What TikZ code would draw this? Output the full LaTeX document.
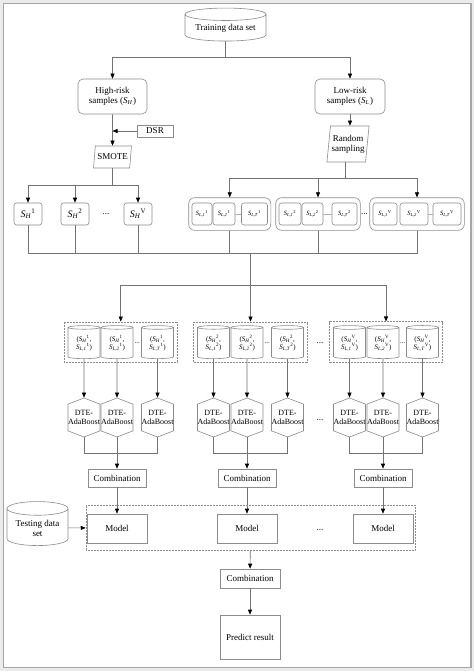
\documentclass[tikz,border=0pt]{standalone}
\usepackage{fontspec}
\setmainfont{Liberation Serif}
\usetikzlibrary{shapes.geometric,shapes.symbols,arrows.meta,fit,calc,positioning}
\newcommand{\Sidx}[2]{\textit{S}\textsubscript{\textit{#1}}\textsuperscript{#2}}

\begin{document}
\begin{tikzpicture}[x=1pt,y=-1pt,
  line/.style={draw=black!55, line width=0.6pt},
  arr/.style={line, -{Triangle[length=5pt,width=4pt,color=black]}},
  box/.style={draw=black!45, line width=0.6pt, fill=white, align=center, inner sep=1pt, font=\fontsize{9}{10}\selectfont},
  rbox/.style={box, rounded corners=5pt},
  sbox/.style={box, rounded corners=2.5pt, minimum height=22pt, font=\fontsize{6.5}{7}\selectfont},
  grp/.style={draw=black!45, line width=0.6pt, rounded corners=6pt, inner xsep=3pt, inner ysep=5pt},
  dashbox/.style={draw=black!45, line width=0.5pt, densely dotted, inner sep=3.5pt},
  db/.style={box, cylinder, shape border rotate=90, aspect=0.2},
  para/.style={box, trapezium, trapezium stretches=true, trapezium left angle=78, trapezium right angle=102},
  hexa/.style={box, signal, signal to=north and south, signal pointer angle=138, minimum width=32pt, minimum height=39pt, inner sep=0pt, font=\fontsize{8}{9}\selectfont},
  dots/.style={font=\fontsize{9}{10}\selectfont, inner sep=0pt}
]
\useasboundingbox (0,0) rectangle (474,671);
\fill[black!8] (0,0) rectangle (474,671);
\draw[black!35, line width=1.2pt, fill=white] (3.5,3.5) rectangle (471,667.5);

% training data and the two classes
\node[db, minimum width=81pt, minimum height=33pt] (train) at (225.5,28.5) {Training data set};
\node[rbox, minimum width=69pt, minimum height=35pt] (high) at (112.5,96.5) {High-risk\\samples (\Sidx{H}{})};
\node[rbox, minimum width=70pt, minimum height=35pt] (low) at (350,96.5) {Low-risk\\samples (\Sidx{L}{})};
\coordinate (tbus) at (225.5,57);
\draw[line] (train) -- (tbus);
\draw[arr] (tbus) -| (high);
\draw[arr] (tbus) -| (low);

% high-risk branch
\node[box, minimum width=36pt, minimum height=12pt] (dsr) at (155,131) {DSR};
\node[para, minimum width=38pt, minimum height=22pt] (smote) at (112.5,157) {SMOTE};
\draw[arr] (high) -- (smote);
\draw[arr] (dsr) -- (high.south |- dsr.west);

\node[sbox, minimum width=28pt, font=\fontsize{10}{11}\selectfont] (sh1) at (28,214) {\Sidx{H}{1}};
\node[sbox, minimum width=28pt, font=\fontsize{10}{11}\selectfont] (sh2) at (75,214) {\Sidx{H}{2}};
\node[sbox, minimum width=28pt, font=\fontsize{10}{11}\selectfont] (shv) at (138,214) {\Sidx{H}{V}};
\node[dots] (shdots) at (106,214) {...};
\coordinate (hbus) at (112.5,185);
\draw[line] (smote) -- (hbus);
\foreach \n in {sh1,sh2,shv}
  \draw[arr] (hbus) -| (\n);

% low-risk branch
\node[para, trapezium left angle=80, trapezium right angle=100, minimum width=40pt, minimum height=36pt] (rs) at (348,144) {Random\\sampling};
\draw[arr] (low) -- (low |- rs.north);

\foreach \g/\s/\xa/\xb/\xc/\wa/\wb/\wc in {1/1/202/224/254.5/20/22/26, 2/2/290/312.5/344.5/22/21/25, 3/V/385/414/447/24/28/28} {
  \node[sbox, minimum width=\wa pt] (sl\g a) at (\xa,214) {\Sidx{L,1}{\s}};
  \node[sbox, minimum width=\wb pt] (sl\g b) at (\xb,214) {\Sidx{L,2}{\s}};
  \node[sbox, minimum width=\wc pt] (sl\g t) at (\xc,214) {\Sidx{L,T}{\s}};
  \draw[black!30] (sl\g b) -- (sl\g t);
  \node[grp, fit=(sl\g a)(sl\g t)] (g\g) {};
}
\node[dots] (gdots) at (364.5,214) {...};
\coordinate (lbus) at (345,178);
\draw[line] (rs.south -| lbus) -- (lbus);
\foreach \n in {g1,g2,g3}
  \draw[arr] (lbus) -| (\n);

% collect all subsets
\coordinate (cbus) at (250,253);
\foreach \n in {sh1,sh2,shv,g1,g2,g3}
  \draw[line] (\n) |- (cbus);
\coordinate (dbus) at (250,285);
\draw[line] (cbus) -- (dbus);

% training sets, DTE-AdaBoost and combination
\foreach \g/\s/\xa/\xb/\xc in {A/1/84/117/157.5, B/2/213.5/247/287.5, C/V/349.5/383/422.5} {
  \node[db, minimum width=32pt, minimum height=33pt, font=\fontsize{7}{8}\selectfont] (c\g a) at (\xa,343.5) {(\Sidx{H}{\s},\\\Sidx{L,1}{\s})};
  \node[db, minimum width=32pt, minimum height=33pt, font=\fontsize{7}{8}\selectfont] (c\g b) at (\xb,343.5) {(\Sidx{H}{\s},\\\Sidx{L,2}{\s})};
  \node[db, minimum width=32pt, minimum height=33pt, font=\fontsize{7}{8}\selectfont] (c\g t) at (\xc,343.5) {(\Sidx{H}{\s},\\\Sidx{L,T}{\s})};
  \node[dots, font=\fontsize{7}{8}\selectfont] at ($(c\g b.east)!0.5!(c\g t.west)$) {...};
  \node[dashbox, fit=(c\g a)(c\g t)] (d\g) {};
  \draw[arr] (dbus) -| (d\g);
  \node[hexa] (h\g a) at (\xa,417.5) {DTE-\\AdaBoost};
  \node[hexa] (h\g b) at (\xb,417.5) {DTE-\\AdaBoost};
  \node[hexa] (h\g t) at (\xc,417.5) {DTE-\\AdaBoost};
  \node[box, minimum width=58pt, minimum height=18pt] (k\g) at (\xb,478) {Combination};
  \node[box, minimum width=60pt, minimum height=29pt] (m\g) at (\xb,528.5) {Model};
  \coordinate (kb\g) at (\xb,453);
  \foreach \p in {a,b,t} {
    \draw[arr] (c\g\p) -- (h\g\p);
    \draw[line] (h\g\p) |- (kb\g);
  }
  \draw[arr] (kb\g) -- (k\g);
  \draw[arr] (k\g) -- (m\g);
}
\node[dots] at (320,343.5) {...};
\node[dots] at (320,420) {...};

% testing and final result
\node[dashbox, minimum width=329pt, minimum height=45pt] (mset) at (250.5,527.5) {};
\node[dots] at (320,530) {...};
\node[db, minimum width=61pt, minimum height=44pt, aspect=0.3] (test) at (37.5,528) {Testing data\\set};
\draw[arr] (test) -- (mset);
\node[box, minimum width=60pt, minimum height=19pt] (fcomb) at (250,578.5) {Combination};
\node[box, minimum width=60pt, minimum height=44pt] (pred) at (250,637) {Predict result};
\draw[arr] (mset) -- (fcomb);
\draw[arr] (fcomb) -- (pred);
\end{tikzpicture}
\end{document}
